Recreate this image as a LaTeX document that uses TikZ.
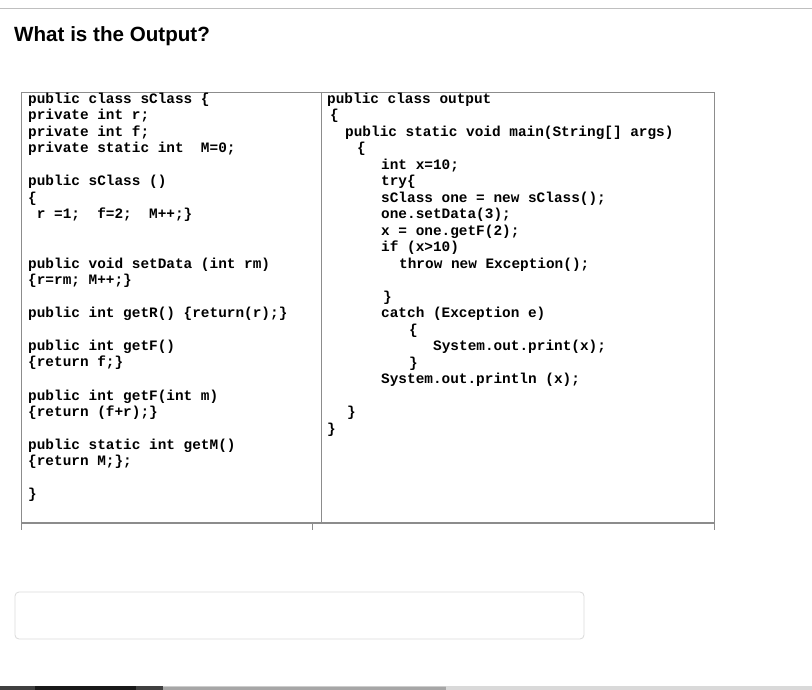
\documentclass[tikz,border=0pt]{standalone}
\usepackage{fontspec}
\setmainfont{Liberation Sans}
\newfontfamily\codefont{Liberation Mono}
\begin{document}
\begin{tikzpicture}[x=1pt,y=-1pt,
  code/.style={anchor=west,inner sep=0pt,font=\codefont\bfseries\fontsize{14.4}{15}\selectfont},
  grid/.style={draw=black!45,line width=0.8pt}]
\useasboundingbox (0,0) rectangle (812,690);
\draw[black!25] (0,8) -- (812,8);
\node[anchor=west,inner sep=0pt,font=\bfseries\fontsize{20.6}{24}\selectfont] (title) at (14,36) {What is the Output?};
% table
\draw[grid] (21,92) rectangle (714,522);
\draw[grid] (321,92) -- (321,522);
\draw[grid] (21,523) -- (714,523);
\draw[black!45] (21,523) -- (21,530) (312,523) -- (312,530) (714,523) -- (714,530);
% left column
\foreach \t/\y [count=\i] in {
 {public class sClass \{}/100, {private int r;}/116, {private int f;}/133, {private static int\ \ M=0;}/149,
 {public sClass ()}/182, {\{}/199, {\ r =1;\ \ f=2;\ \ M++;\}}/215,
 {public void setData (int rm)}/265, {\{r=rm; M++;\}}/281,
 {public int getR() \{return(r);\}}/314,
 {public int getF()}/347, {\{return f;\}}/363,
 {public int getF(int m)}/397, {\{return (f+r);\}}/413,
 {public static int getM()}/446, {\{return M;\};}/462,
 {\}}/495}
 \node[code] (L\i) at (28,\y) {\t};
% right column
\foreach \t/\x/\y [count=\i] in {
 {public class output}/327/100, {\{}/330/116, {public static void main(String[] args)}/345/133,
 {\{}/357/149, {int x=10;}/381/166, {try\{}/381/182, {sClass one = new sClass();}/381/199,
 {one.setData(3);}/381/215, {x = one.getF(2);}/381/232, {if (x>10)}/381/248,
 {throw new Exception();}/399/265, {\}}/383/298, {catch (Exception e)}/381/314,
 {\{}/409/331, {System.out.print(x);}/433/347, {\}}/409/364, {System.out.println (x);}/381/380,
 {\}}/347/413, {\}}/327/430}
 \node[code] (R\i) at (\x,\y) {\t};
% answer box
\draw[black!15,rounded corners=4pt,line width=0.8pt] (15,592) rectangle (584,639);
% bottom strip
\fill[black!15] (0,686) rectangle (812,690);
\fill[black!75] (0,686) rectangle (237,690);
\fill[black!90] (35,686) rectangle (136,690);
\fill[black!35] (163,686) rectangle (446,690);
\fill[black!20] (163,686) rectangle (446,687);
\end{tikzpicture}
\end{document}
